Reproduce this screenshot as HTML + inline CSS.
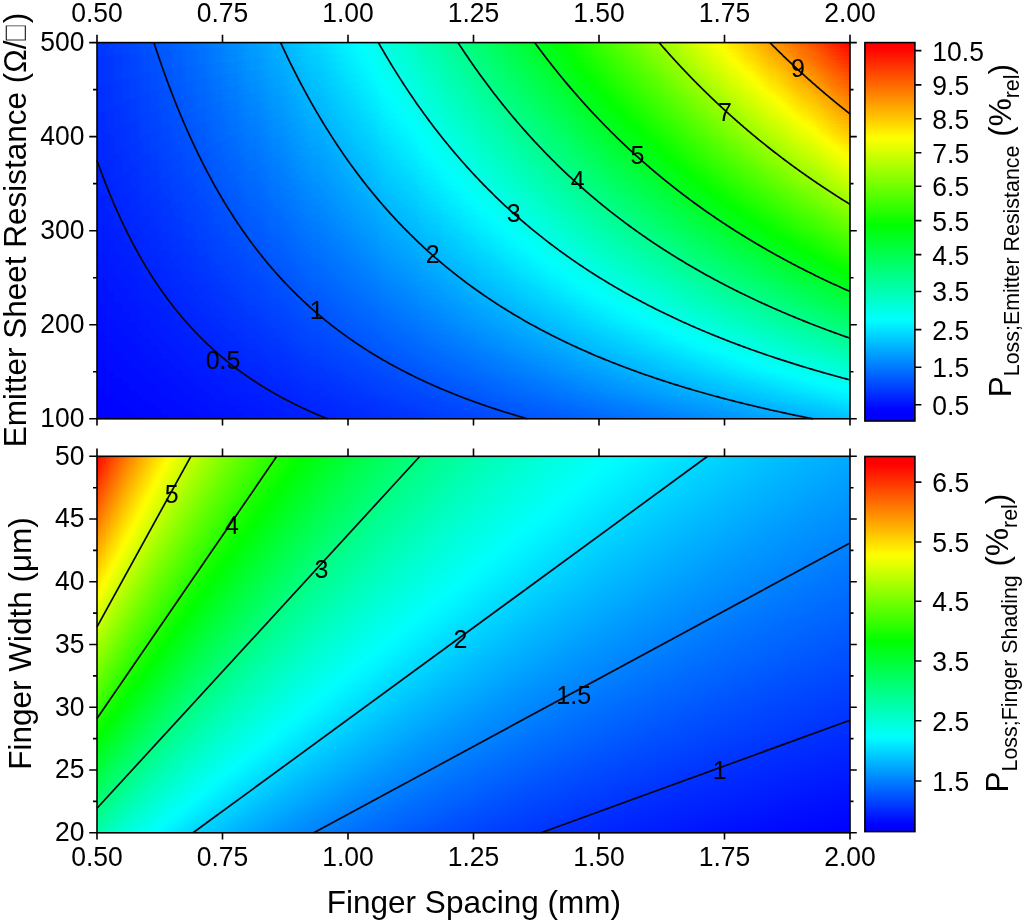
<!DOCTYPE html>
<html><head><meta charset="utf-8"><title>Finger spacing contour plots</title>
<style>
html,body{margin:0;padding:0;background:#fff;}
body{width:1025px;height:922px;position:relative;overflow:hidden;font-family:"Liberation Sans", Arial, sans-serif;}
#bf{position:absolute;left:97.00px;top:456.30px;width:753.00px;height:376.50px;background:conic-gradient(from 0deg at -251.00px 627.50px, #ff0000 20.656deg, #ff0000 20.786deg, #ff0000 20.918deg, #ff0000 21.051deg, #ff0000 21.187deg, #ff0000 21.323deg, #ff0000 21.462deg, #ff0000 21.602deg, #ff0000 21.744deg, #ff0500 21.888deg, #ff0d00 22.033deg, #ff1500 22.181deg, #ff1e00 22.330deg, #ff2600 22.481deg, #ff2e00 22.635deg, #ff3600 22.790deg, #ff3f00 22.947deg, #ff4700 23.106deg, #ff4f00 23.268deg, #ff5700 23.431deg, #ff6000 23.597deg, #ff6800 23.765deg, #ff7000 23.935deg, #ff7800 24.108deg, #ff8000 24.282deg, #ff8900 24.460deg, #ff9100 24.639deg, #ff9900 24.822deg, #ffa100 25.006deg, #ffaa00 25.194deg, #ffb200 25.384deg, #ffba00 25.576deg, #ffc200 25.772deg, #ffcb00 25.970deg, #ffd300 26.171deg, #ffdb00 26.375deg, #ffe300 26.582deg, #ffec00 26.792deg, #fff400 27.005deg, #fffc00 27.221deg, #faff00 27.440deg, #f1ff00 27.663deg, #e9ff00 27.889deg, #e1ff00 28.119deg, #d9ff00 28.352deg, #d1ff00 28.588deg, #c8ff00 28.828deg, #c0ff00 29.072deg, #b8ff00 29.320deg, #b0ff00 29.572deg, #a7ff00 29.827deg, #9fff00 30.087deg, #97ff00 30.350deg, #8fff00 30.618deg, #86ff00 30.890deg, #7eff00 31.167deg, #76ff00 31.448deg, #6eff00 31.734deg, #65ff00 32.024deg, #5dff00 32.319deg, #55ff00 32.619deg, #4dff00 32.924deg, #45ff00 33.234deg, #3cff00 33.550deg, #34ff00 33.870deg, #2cff00 34.196deg, #24ff00 34.528deg, #1bff00 34.865deg, #13ff00 35.208deg, #0bff00 35.557deg, #03ff00 35.912deg, #00ff06 36.274deg, #00ff0e 36.641deg, #00ff16 37.015deg, #00ff1e 37.396deg, #00ff27 37.783deg, #00ff2f 38.177deg, #00ff37 38.579deg, #00ff3f 38.987deg, #00ff47 39.403deg, #00ff50 39.826deg, #00ff58 40.257deg, #00ff60 40.696deg, #00ff68 41.142deg, #00ff71 41.597deg, #00ff79 42.060deg, #00ff81 42.531deg, #00ff89 43.011deg, #00ff92 43.500deg, #00ff9a 43.998deg, #00ffa2 44.505deg, #00ffaa 45.021deg, #00ffb3 45.546deg, #00ffbb 46.082deg, #00ffc3 46.627deg, #00ffcb 47.182deg, #00ffd4 47.747deg, #00ffdc 48.323deg, #00ffe4 48.909deg, #00ffec 49.505deg, #00fff4 50.113deg, #00fffd 50.731deg, #00f9ff 51.361deg, #00f1ff 52.001deg, #00e9ff 52.653deg, #00e0ff 53.317deg, #00d8ff 53.992deg, #00d0ff 54.680deg, #00c8ff 55.379deg, #00bfff 56.089deg, #00b7ff 56.813deg, #00afff 57.548deg, #00a7ff 58.295deg, #009eff 59.055deg, #0096ff 59.826deg, #008eff 60.611deg, #0086ff 61.407deg, #007eff 62.216deg, #0075ff 63.037deg, #006dff 63.870deg, #0065ff 64.715deg, #005dff 65.572deg, #0054ff 66.441deg, #004cff 67.321deg, #0044ff 68.213deg, #003cff 69.116deg, #0033ff 70.030deg, #002bff 70.955deg, #0023ff 71.890deg, #001bff 72.836deg, #0012ff 73.791deg, #000aff 74.755deg, #0002ff 75.729deg, #0000ff 76.711deg, #0000ff 77.701deg, #0000ff 78.698deg, #0000ff 79.702deg);}
</style></head><body>
<div id="bf"></div>
<svg width="1025" height="922" viewBox="0 0 1025 922" style="position:absolute;left:0;top:0">
<defs>
<linearGradient id="gx" x1="0" y1="0" x2="1" y2="0"><stop offset="0" stop-color="rgb(64,0,0)"/><stop offset="1" stop-color="rgb(255,0,0)"/></linearGradient>
<linearGradient id="gy" x1="0" y1="0" x2="0" y2="1"><stop offset="0" stop-color="rgb(0,255,0)"/><stop offset="1" stop-color="rgb(0,51,0)"/></linearGradient>
<filter id="ft" filterUnits="userSpaceOnUse" x="97.0" y="42.6" width="753.0" height="376.2" color-interpolation-filters="sRGB">
<feColorMatrix in="SourceGraphic" type="matrix" values="1 0 0 0 0  1 0 0 0 0  1 0 0 0 0  0 0 0 0 1" result="A"/>
<feColorMatrix in="SourceGraphic" type="matrix" values="0 1 0 0 0  0 1 0 0 0  0 1 0 0 0  0 0 0 0 1" result="B"/>
<feComposite in="A" in2="A" operator="arithmetic" k1="1" k2="0" k3="0" k4="0" result="AA"/>
<feComposite in="AA" in2="B" operator="arithmetic" k1="1" k2="0" k3="0" k4="0" result="P"/>
<feComponentTransfer in="P">
<feFuncR type="table" tableValues="0.0000 0.0000 0.0000 0.0000 0.0000 0.0000 0.0000 0.0000 0.0000 0.0000 0.0000 0.0000 0.0000 0.0000 0.0000 0.0000 0.0000 0.0000 0.0000 0.0000 0.0000 0.0000 0.0000 0.0000 0.0000 0.0000 0.0000 0.0000 0.0000 0.0000 0.0000 0.0000 0.0000 0.0000 0.0000 0.0000 0.0000 0.0000 0.0000 0.0000 0.0000 0.0000 0.0000 0.0000 0.0000 0.0000 0.0000 0.0000 0.0000 0.0000 0.0000 0.0000 0.0000 0.0000 0.0000 0.0000 0.0000 0.0000 0.0000 0.0000 0.0000 0.0000 0.0000 0.0000 0.0000 0.0000 0.0000 0.0000 0.0000 0.0000 0.0000 0.0000 0.0000 0.0000 0.0000 0.0000 0.0000 0.0000 0.0000 0.0000 0.0000 0.0000 0.0000 0.0000 0.0000 0.0000 0.0000 0.0000 0.0000 0.0000 0.0000 0.0000 0.0000 0.0000 0.0000 0.0000 0.0000 0.0000 0.0000 0.0000 0.0000 0.0000 0.0000 0.0000 0.0000 0.0000 0.0000 0.0000 0.0000 0.0000 0.0000 0.0000 0.0000 0.0000 0.0000 0.0000 0.0000 0.0000 0.0000 0.0000 0.0000 0.0000 0.0000 0.0000 0.0000 0.0000 0.0000 0.0000 0.0000 0.0000 0.0063 0.0222 0.0380 0.0538 0.0696 0.0854 0.1013 0.1171 0.1329 0.1487 0.1646 0.1804 0.1962 0.2120 0.2278 0.2437 0.2595 0.2753 0.2911 0.3070 0.3228 0.3386 0.3544 0.3703 0.3861 0.4019 0.4177 0.4335 0.4494 0.4652 0.4810 0.4968 0.5127 0.5285 0.5443 0.5601 0.5759 0.5918 0.6076 0.6234 0.6392 0.6551 0.6709 0.6867 0.7025 0.7184 0.7342 0.7500 0.7658 0.7816 0.7975 0.8133 0.8291 0.8449 0.8608 0.8766 0.8924 0.9082 0.9241 0.9399 0.9557 0.9715 0.9873 1.0000 1.0000 1.0000 1.0000 1.0000 1.0000 1.0000 1.0000 1.0000 1.0000 1.0000 1.0000 1.0000 1.0000 1.0000 1.0000 1.0000 1.0000 1.0000 1.0000 1.0000 1.0000 1.0000 1.0000 1.0000 1.0000 1.0000 1.0000 1.0000 1.0000 1.0000 1.0000 1.0000 1.0000 1.0000 1.0000 1.0000 1.0000 1.0000 1.0000 1.0000 1.0000 1.0000 1.0000 1.0000 1.0000 1.0000 1.0000 1.0000 1.0000 1.0000 1.0000 1.0000 1.0000 1.0000 1.0000 1.0000 1.0000 1.0000 1.0000 1.0000 1.0000 1.0000 1.0000"/>
<feFuncG type="table" tableValues="0.0000 0.0000 0.0000 0.0000 0.0127 0.0285 0.0443 0.0601 0.0759 0.0918 0.1076 0.1234 0.1392 0.1551 0.1709 0.1867 0.2025 0.2184 0.2342 0.2500 0.2658 0.2816 0.2975 0.3133 0.3291 0.3449 0.3608 0.3766 0.3924 0.4082 0.4241 0.4399 0.4557 0.4715 0.4873 0.5032 0.5190 0.5348 0.5506 0.5665 0.5823 0.5981 0.6139 0.6297 0.6456 0.6614 0.6772 0.6930 0.7089 0.7247 0.7405 0.7563 0.7722 0.7880 0.8038 0.8196 0.8354 0.8513 0.8671 0.8829 0.8987 0.9146 0.9304 0.9462 0.9620 0.9778 0.9937 1.0000 1.0000 1.0000 1.0000 1.0000 1.0000 1.0000 1.0000 1.0000 1.0000 1.0000 1.0000 1.0000 1.0000 1.0000 1.0000 1.0000 1.0000 1.0000 1.0000 1.0000 1.0000 1.0000 1.0000 1.0000 1.0000 1.0000 1.0000 1.0000 1.0000 1.0000 1.0000 1.0000 1.0000 1.0000 1.0000 1.0000 1.0000 1.0000 1.0000 1.0000 1.0000 1.0000 1.0000 1.0000 1.0000 1.0000 1.0000 1.0000 1.0000 1.0000 1.0000 1.0000 1.0000 1.0000 1.0000 1.0000 1.0000 1.0000 1.0000 1.0000 1.0000 1.0000 1.0000 1.0000 1.0000 1.0000 1.0000 1.0000 1.0000 1.0000 1.0000 1.0000 1.0000 1.0000 1.0000 1.0000 1.0000 1.0000 1.0000 1.0000 1.0000 1.0000 1.0000 1.0000 1.0000 1.0000 1.0000 1.0000 1.0000 1.0000 1.0000 1.0000 1.0000 1.0000 1.0000 1.0000 1.0000 1.0000 1.0000 1.0000 1.0000 1.0000 1.0000 1.0000 1.0000 1.0000 1.0000 1.0000 1.0000 1.0000 1.0000 1.0000 1.0000 1.0000 1.0000 1.0000 1.0000 1.0000 1.0000 1.0000 1.0000 1.0000 1.0000 1.0000 1.0000 0.9968 0.9810 0.9652 0.9494 0.9335 0.9177 0.9019 0.8861 0.8703 0.8544 0.8386 0.8228 0.8070 0.7911 0.7753 0.7595 0.7437 0.7278 0.7120 0.6962 0.6804 0.6646 0.6487 0.6329 0.6171 0.6013 0.5854 0.5696 0.5538 0.5380 0.5222 0.5063 0.4905 0.4747 0.4589 0.4430 0.4272 0.4114 0.3956 0.3797 0.3639 0.3481 0.3323 0.3165 0.3006 0.2848 0.2690 0.2532 0.2373 0.2215 0.2057 0.1899 0.1741 0.1582 0.1424 0.1266 0.1108 0.0949 0.0791 0.0633 0.0475 0.0316 0.0158 0.0000"/>
<feFuncB type="table" tableValues="1.0000 1.0000 1.0000 1.0000 1.0000 1.0000 1.0000 1.0000 1.0000 1.0000 1.0000 1.0000 1.0000 1.0000 1.0000 1.0000 1.0000 1.0000 1.0000 1.0000 1.0000 1.0000 1.0000 1.0000 1.0000 1.0000 1.0000 1.0000 1.0000 1.0000 1.0000 1.0000 1.0000 1.0000 1.0000 1.0000 1.0000 1.0000 1.0000 1.0000 1.0000 1.0000 1.0000 1.0000 1.0000 1.0000 1.0000 1.0000 1.0000 1.0000 1.0000 1.0000 1.0000 1.0000 1.0000 1.0000 1.0000 1.0000 1.0000 1.0000 1.0000 1.0000 1.0000 1.0000 1.0000 1.0000 1.0000 0.9905 0.9747 0.9589 0.9430 0.9272 0.9114 0.8956 0.8797 0.8639 0.8481 0.8323 0.8165 0.8006 0.7848 0.7690 0.7532 0.7373 0.7215 0.7057 0.6899 0.6741 0.6582 0.6424 0.6266 0.6108 0.5949 0.5791 0.5633 0.5475 0.5316 0.5158 0.5000 0.4842 0.4684 0.4525 0.4367 0.4209 0.4051 0.3892 0.3734 0.3576 0.3418 0.3259 0.3101 0.2943 0.2785 0.2627 0.2468 0.2310 0.2152 0.1994 0.1835 0.1677 0.1519 0.1361 0.1203 0.1044 0.0886 0.0728 0.0570 0.0411 0.0253 0.0095 0.0000 0.0000 0.0000 0.0000 0.0000 0.0000 0.0000 0.0000 0.0000 0.0000 0.0000 0.0000 0.0000 0.0000 0.0000 0.0000 0.0000 0.0000 0.0000 0.0000 0.0000 0.0000 0.0000 0.0000 0.0000 0.0000 0.0000 0.0000 0.0000 0.0000 0.0000 0.0000 0.0000 0.0000 0.0000 0.0000 0.0000 0.0000 0.0000 0.0000 0.0000 0.0000 0.0000 0.0000 0.0000 0.0000 0.0000 0.0000 0.0000 0.0000 0.0000 0.0000 0.0000 0.0000 0.0000 0.0000 0.0000 0.0000 0.0000 0.0000 0.0000 0.0000 0.0000 0.0000 0.0000 0.0000 0.0000 0.0000 0.0000 0.0000 0.0000 0.0000 0.0000 0.0000 0.0000 0.0000 0.0000 0.0000 0.0000 0.0000 0.0000 0.0000 0.0000 0.0000 0.0000 0.0000 0.0000 0.0000 0.0000 0.0000 0.0000 0.0000 0.0000 0.0000 0.0000 0.0000 0.0000 0.0000 0.0000 0.0000 0.0000 0.0000 0.0000 0.0000 0.0000 0.0000 0.0000 0.0000 0.0000 0.0000 0.0000 0.0000 0.0000 0.0000 0.0000 0.0000 0.0000 0.0000 0.0000 0.0000 0.0000 0.0000 0.0000 0.0000 0.0000 0.0000 0.0000"/>
<feFuncA type="identity"/>
</feComponentTransfer>
</filter>
<linearGradient id="cbt" x1="0" y1="0" x2="0" y2="1"><stop offset="0.000" stop-color="#ff0000"/><stop offset="0.010" stop-color="#ff0000"/><stop offset="0.020" stop-color="#ff0600"/><stop offset="0.030" stop-color="#ff1100"/><stop offset="0.040" stop-color="#ff1c00"/><stop offset="0.050" stop-color="#ff2600"/><stop offset="0.060" stop-color="#ff3100"/><stop offset="0.070" stop-color="#ff3c00"/><stop offset="0.080" stop-color="#ff4600"/><stop offset="0.090" stop-color="#ff5100"/><stop offset="0.100" stop-color="#ff5c00"/><stop offset="0.110" stop-color="#ff6700"/><stop offset="0.120" stop-color="#ff7100"/><stop offset="0.130" stop-color="#ff7c00"/><stop offset="0.140" stop-color="#ff8700"/><stop offset="0.150" stop-color="#ff9200"/><stop offset="0.160" stop-color="#ff9c00"/><stop offset="0.170" stop-color="#ffa700"/><stop offset="0.180" stop-color="#ffb200"/><stop offset="0.190" stop-color="#ffbc00"/><stop offset="0.200" stop-color="#ffc700"/><stop offset="0.210" stop-color="#ffd200"/><stop offset="0.220" stop-color="#ffdd00"/><stop offset="0.230" stop-color="#ffe700"/><stop offset="0.240" stop-color="#fff200"/><stop offset="0.250" stop-color="#fffd00"/><stop offset="0.260" stop-color="#f6ff00"/><stop offset="0.270" stop-color="#ebff00"/><stop offset="0.280" stop-color="#e0ff00"/><stop offset="0.290" stop-color="#d5ff00"/><stop offset="0.300" stop-color="#caff00"/><stop offset="0.310" stop-color="#bfff00"/><stop offset="0.320" stop-color="#b4ff00"/><stop offset="0.330" stop-color="#a9ff00"/><stop offset="0.340" stop-color="#9eff00"/><stop offset="0.350" stop-color="#92ff00"/><stop offset="0.360" stop-color="#87ff00"/><stop offset="0.370" stop-color="#7cff00"/><stop offset="0.380" stop-color="#71ff00"/><stop offset="0.390" stop-color="#66ff00"/><stop offset="0.400" stop-color="#5bff00"/><stop offset="0.410" stop-color="#50ff00"/><stop offset="0.420" stop-color="#45ff00"/><stop offset="0.430" stop-color="#3aff00"/><stop offset="0.440" stop-color="#2fff00"/><stop offset="0.450" stop-color="#24ff00"/><stop offset="0.460" stop-color="#18ff00"/><stop offset="0.470" stop-color="#0dff00"/><stop offset="0.480" stop-color="#02ff00"/><stop offset="0.490" stop-color="#00ff08"/><stop offset="0.500" stop-color="#00ff12"/><stop offset="0.510" stop-color="#00ff1c"/><stop offset="0.520" stop-color="#00ff27"/><stop offset="0.530" stop-color="#00ff31"/><stop offset="0.540" stop-color="#00ff3b"/><stop offset="0.550" stop-color="#00ff45"/><stop offset="0.560" stop-color="#00ff4f"/><stop offset="0.570" stop-color="#00ff59"/><stop offset="0.580" stop-color="#00ff64"/><stop offset="0.590" stop-color="#00ff6e"/><stop offset="0.600" stop-color="#00ff78"/><stop offset="0.610" stop-color="#00ff82"/><stop offset="0.620" stop-color="#00ff8c"/><stop offset="0.630" stop-color="#00ff96"/><stop offset="0.640" stop-color="#00ffa0"/><stop offset="0.650" stop-color="#00ffab"/><stop offset="0.660" stop-color="#00ffb5"/><stop offset="0.670" stop-color="#00ffbf"/><stop offset="0.680" stop-color="#00ffc9"/><stop offset="0.690" stop-color="#00ffd3"/><stop offset="0.700" stop-color="#00ffdd"/><stop offset="0.710" stop-color="#00ffe8"/><stop offset="0.720" stop-color="#00fff2"/><stop offset="0.730" stop-color="#00fffc"/><stop offset="0.740" stop-color="#00f8ff"/><stop offset="0.750" stop-color="#00edff"/><stop offset="0.760" stop-color="#00e2ff"/><stop offset="0.770" stop-color="#00d8ff"/><stop offset="0.780" stop-color="#00cdff"/><stop offset="0.790" stop-color="#00c3ff"/><stop offset="0.800" stop-color="#00b8ff"/><stop offset="0.810" stop-color="#00adff"/><stop offset="0.820" stop-color="#00a3ff"/><stop offset="0.830" stop-color="#0098ff"/><stop offset="0.840" stop-color="#008eff"/><stop offset="0.850" stop-color="#0083ff"/><stop offset="0.860" stop-color="#0078ff"/><stop offset="0.870" stop-color="#006eff"/><stop offset="0.880" stop-color="#0063ff"/><stop offset="0.890" stop-color="#0059ff"/><stop offset="0.900" stop-color="#004eff"/><stop offset="0.910" stop-color="#0043ff"/><stop offset="0.920" stop-color="#0039ff"/><stop offset="0.930" stop-color="#002eff"/><stop offset="0.940" stop-color="#0024ff"/><stop offset="0.950" stop-color="#0019ff"/><stop offset="0.960" stop-color="#000eff"/><stop offset="0.970" stop-color="#0004ff"/><stop offset="0.980" stop-color="#0000ff"/><stop offset="0.990" stop-color="#0000ff"/><stop offset="1.000" stop-color="#0000ff"/></linearGradient>
<linearGradient id="cbb" x1="0" y1="0" x2="0" y2="1"><stop offset="0.000" stop-color="#ff0000"/><stop offset="0.010" stop-color="#ff0000"/><stop offset="0.020" stop-color="#ff0000"/><stop offset="0.030" stop-color="#ff0b00"/><stop offset="0.040" stop-color="#ff1500"/><stop offset="0.050" stop-color="#ff2000"/><stop offset="0.060" stop-color="#ff2a00"/><stop offset="0.070" stop-color="#ff3500"/><stop offset="0.080" stop-color="#ff3f00"/><stop offset="0.090" stop-color="#ff4a00"/><stop offset="0.100" stop-color="#ff5400"/><stop offset="0.110" stop-color="#ff5f00"/><stop offset="0.120" stop-color="#ff6900"/><stop offset="0.130" stop-color="#ff7400"/><stop offset="0.140" stop-color="#ff7e00"/><stop offset="0.150" stop-color="#ff8900"/><stop offset="0.160" stop-color="#ff9300"/><stop offset="0.170" stop-color="#ff9e00"/><stop offset="0.180" stop-color="#ffa800"/><stop offset="0.190" stop-color="#ffb300"/><stop offset="0.200" stop-color="#ffbd00"/><stop offset="0.210" stop-color="#ffc800"/><stop offset="0.220" stop-color="#ffd200"/><stop offset="0.230" stop-color="#ffdd00"/><stop offset="0.240" stop-color="#ffe700"/><stop offset="0.250" stop-color="#fff200"/><stop offset="0.260" stop-color="#fffc00"/><stop offset="0.270" stop-color="#f7ff00"/><stop offset="0.280" stop-color="#ecff00"/><stop offset="0.290" stop-color="#e1ff00"/><stop offset="0.300" stop-color="#d5ff00"/><stop offset="0.310" stop-color="#caff00"/><stop offset="0.320" stop-color="#bfff00"/><stop offset="0.330" stop-color="#b4ff00"/><stop offset="0.340" stop-color="#a9ff00"/><stop offset="0.350" stop-color="#9eff00"/><stop offset="0.360" stop-color="#93ff00"/><stop offset="0.370" stop-color="#88ff00"/><stop offset="0.380" stop-color="#7cff00"/><stop offset="0.390" stop-color="#71ff00"/><stop offset="0.400" stop-color="#66ff00"/><stop offset="0.410" stop-color="#5bff00"/><stop offset="0.420" stop-color="#50ff00"/><stop offset="0.430" stop-color="#45ff00"/><stop offset="0.440" stop-color="#3aff00"/><stop offset="0.450" stop-color="#2fff00"/><stop offset="0.460" stop-color="#23ff00"/><stop offset="0.470" stop-color="#18ff00"/><stop offset="0.480" stop-color="#0dff00"/><stop offset="0.490" stop-color="#02ff00"/><stop offset="0.500" stop-color="#00ff08"/><stop offset="0.510" stop-color="#00ff12"/><stop offset="0.520" stop-color="#00ff1c"/><stop offset="0.530" stop-color="#00ff26"/><stop offset="0.540" stop-color="#00ff30"/><stop offset="0.550" stop-color="#00ff3a"/><stop offset="0.560" stop-color="#00ff44"/><stop offset="0.570" stop-color="#00ff4e"/><stop offset="0.580" stop-color="#00ff58"/><stop offset="0.590" stop-color="#00ff62"/><stop offset="0.600" stop-color="#00ff6c"/><stop offset="0.610" stop-color="#00ff76"/><stop offset="0.620" stop-color="#00ff80"/><stop offset="0.630" stop-color="#00ff8a"/><stop offset="0.640" stop-color="#00ff94"/><stop offset="0.650" stop-color="#00ff9e"/><stop offset="0.660" stop-color="#00ffa8"/><stop offset="0.670" stop-color="#00ffb1"/><stop offset="0.680" stop-color="#00ffbb"/><stop offset="0.690" stop-color="#00ffc5"/><stop offset="0.700" stop-color="#00ffcf"/><stop offset="0.710" stop-color="#00ffd9"/><stop offset="0.720" stop-color="#00ffe3"/><stop offset="0.730" stop-color="#00ffed"/><stop offset="0.740" stop-color="#00fff7"/><stop offset="0.750" stop-color="#00fdff"/><stop offset="0.760" stop-color="#00f2ff"/><stop offset="0.770" stop-color="#00e7ff"/><stop offset="0.780" stop-color="#00dcff"/><stop offset="0.790" stop-color="#00d1ff"/><stop offset="0.800" stop-color="#00c6ff"/><stop offset="0.810" stop-color="#00bbff"/><stop offset="0.820" stop-color="#00b1ff"/><stop offset="0.830" stop-color="#00a6ff"/><stop offset="0.840" stop-color="#009bff"/><stop offset="0.850" stop-color="#0090ff"/><stop offset="0.860" stop-color="#0085ff"/><stop offset="0.870" stop-color="#007aff"/><stop offset="0.880" stop-color="#006fff"/><stop offset="0.890" stop-color="#0064ff"/><stop offset="0.900" stop-color="#005aff"/><stop offset="0.910" stop-color="#004fff"/><stop offset="0.920" stop-color="#0044ff"/><stop offset="0.930" stop-color="#0039ff"/><stop offset="0.940" stop-color="#002eff"/><stop offset="0.950" stop-color="#0023ff"/><stop offset="0.960" stop-color="#0018ff"/><stop offset="0.970" stop-color="#000dff"/><stop offset="0.980" stop-color="#0003ff"/><stop offset="0.990" stop-color="#0000ff"/><stop offset="1.000" stop-color="#0000ff"/></linearGradient>
</defs>
<g filter="url(#ft)">
<rect x="97.0" y="42.6" width="753.0" height="376.2" fill="url(#gx)"/>
<rect x="97.0" y="42.6" width="753.0" height="376.2" fill="url(#gy)" style="mix-blend-mode:screen"/>
</g>
<g fill="none" stroke="#050510" stroke-width="1.70" stroke-linejoin="round">
<path d="M97.00,160.40 L97.77,162.56 L98.54,164.70 L99.30,166.83 L100.07,168.93 L100.84,171.02 L101.61,173.08 L102.38,175.13 L103.15,177.16 L103.91,179.17 L104.68,181.16 L105.45,183.14 L106.22,185.10 L106.99,187.04 L107.76,188.96 L108.53,190.87 L109.29,192.76 L110.06,194.63 L110.83,196.49 L111.60,198.33 L112.37,200.16 L113.14,201.97 L113.90,203.76 L114.67,205.54 L115.44,207.30 L116.21,209.05 L116.98,210.79 L117.75,212.51 L118.51,214.21 L119.28,215.90 L120.05,217.58 L120.82,219.24 L121.59,220.89 L122.35,222.52 L123.12,224.14 L123.89,225.75 L124.66,227.34 L125.43,228.92 L126.20,230.49 L126.96,232.05 L127.73,233.59 L128.50,235.12 L129.27,236.64 L130.04,238.14 L130.81,239.63 L131.57,241.12 L132.34,242.58 L133.11,244.04 L133.88,245.49 L134.65,246.92 L135.42,248.34 L136.19,249.76 L136.95,251.16 L137.72,252.55 L138.49,253.92 L139.26,255.29 L140.03,256.65 L140.80,257.99 L141.56,259.33 L142.33,260.65 L143.10,261.97 L143.87,263.27 L144.64,264.57 L145.41,265.85 L146.17,267.13 L146.94,268.39 L147.71,269.65 L148.48,270.90 L149.25,272.13 L150.01,273.36 L150.78,274.58 L151.55,275.79 L152.32,276.98 L153.09,278.18 L153.86,279.36 L154.63,280.53 L155.39,281.69 L156.16,282.85 L156.93,284.00 L157.70,285.14 L158.47,286.27 L159.24,287.39 L160.00,288.50 L160.77,289.61 L161.54,290.70 L162.31,291.79 L163.08,292.87 L163.85,293.95 L164.61,295.01 L165.38,296.07 L166.15,297.12 L166.92,298.17 L167.69,299.20 L168.45,300.23 L169.22,301.25 L169.99,302.26 L170.76,303.27 L171.53,304.27 L172.30,305.26 L173.06,306.25 L173.83,307.23 L174.60,308.20 L175.37,309.16 L176.14,310.12 L176.91,311.07 L177.67,312.02 L178.44,312.95 L179.21,313.89 L179.98,314.81 L180.75,315.73 L181.52,316.64 L182.29,317.55 L183.05,318.45 L183.82,319.34 L184.59,320.23 L185.36,321.11 L186.13,321.99 L186.90,322.86 L187.66,323.72 L188.43,324.58 L189.20,325.43 L189.97,326.28 L190.74,327.12 L191.50,327.96 L192.27,328.79 L193.04,329.61 L193.81,330.43 L194.58,331.25 L195.35,332.05 L196.12,332.86 L196.88,333.66 L197.65,334.45 L198.42,335.24 L199.19,336.02 L199.96,336.79 L200.73,337.57 L201.49,338.33 L202.26,339.10 L203.03,339.85 L203.80,340.61 L204.57,341.35 L205.34,342.10 L206.10,342.83 L206.87,343.57 L207.64,344.30 L208.41,345.02 L209.18,345.74 L209.94,346.45 L210.71,347.16 L211.48,347.87 L212.25,348.57 L213.02,349.27 L213.79,349.96 L214.56,350.65 L215.32,351.33 L216.09,352.01 L216.86,352.69 L217.63,353.36 L218.40,354.03 L219.16,354.69 L219.93,355.35 L220.70,356.00 L221.47,356.66 L222.24,357.30 L223.01,357.95 L223.77,358.58 L224.54,359.22 L225.31,359.85 L226.08,360.48 L226.85,361.10 L227.62,361.72 L228.38,362.34 L229.15,362.95 L229.92,363.56 L230.69,364.16 L231.46,364.77 L232.23,365.36 L233.00,365.96 L233.76,366.55 L234.53,367.14 L235.30,367.72 L236.07,368.30 L236.84,368.88 L237.61,369.45 L238.37,370.02 L239.14,370.59 L239.91,371.15 L240.68,371.71 L241.45,372.27 L242.22,372.82 L242.98,373.38 L243.75,373.92 L244.52,374.47 L245.29,375.01 L246.06,375.55 L246.83,376.08 L247.59,376.61 L248.36,377.14 L249.13,377.67 L249.90,378.19 L250.67,378.71 L251.44,379.23 L252.20,379.74 L252.97,380.25 L253.74,380.76 L254.51,381.27 L255.28,381.77 L256.05,382.27 L256.81,382.76 L257.58,383.26 L258.35,383.75 L259.12,384.24 L259.89,384.72 L260.65,385.21 L261.42,385.69 L262.19,386.17 L262.96,386.64 L263.73,387.11 L264.50,387.58 L265.26,388.05 L266.03,388.52 L266.80,388.98 L267.57,389.44 L268.34,389.90 L269.11,390.35 L269.88,390.80 L270.64,391.25 L271.41,391.70 L272.18,392.14 L272.95,392.59 L273.72,393.03 L274.49,393.46 L275.25,393.90 L276.02,394.33 L276.79,394.76 L277.56,395.19 L278.33,395.62 L279.10,396.04 L279.86,396.46 L280.63,396.88 L281.40,397.30 L282.17,397.72 L282.94,398.13 L283.71,398.54 L284.47,398.95 L285.24,399.36 L286.01,399.76 L286.78,400.16 L287.55,400.56 L288.32,400.96 L289.08,401.36 L289.85,401.75 L290.62,402.14 L291.39,402.53 L292.16,402.92 L292.93,403.30 L293.69,403.69 L294.46,404.07 L295.23,404.45 L296.00,404.83 L296.77,405.20 L297.54,405.58 L298.30,405.95 L299.07,406.32 L299.84,406.69 L300.61,407.06 L301.38,407.42 L302.14,407.78 L302.91,408.14 L303.68,408.50 L304.45,408.86 L305.22,409.22 L305.99,409.57 L306.75,409.92 L307.52,410.27 L308.29,410.62 L309.06,410.97 L309.83,411.31 L310.60,411.66 L311.37,412.00 L312.13,412.34 L312.90,412.68 L313.67,413.01 L314.44,413.35 L315.21,413.68 L315.98,414.01 L316.74,414.34 L317.51,414.67 L318.28,415.00 L319.05,415.32 L319.82,415.65 L320.59,415.97 L321.35,416.29 L322.12,416.61 L322.89,416.93 L323.66,417.24 L324.43,417.56 L325.20,417.87 L325.96,418.18 L326.73,418.49 L327.50,418.80"/>
<path d="M153.90,42.60 L155.15,46.40 L156.39,50.16 L157.64,53.87 L158.88,57.53 L160.13,61.15 L161.37,64.73 L162.62,68.27 L163.86,71.77 L165.11,75.22 L166.35,78.64 L167.60,82.01 L168.84,85.35 L170.09,88.64 L171.33,91.90 L172.58,95.13 L173.83,98.31 L175.07,101.46 L176.32,104.58 L177.56,107.66 L178.81,110.70 L180.05,113.71 L181.30,116.69 L182.54,119.64 L183.79,122.55 L185.03,125.43 L186.28,128.28 L187.52,131.09 L188.77,133.88 L190.01,136.64 L191.26,139.36 L192.51,142.06 L193.75,144.73 L195.00,147.37 L196.24,149.98 L197.49,152.56 L198.73,155.12 L199.98,157.65 L201.22,160.15 L202.47,162.63 L203.71,165.08 L204.96,167.51 L206.20,169.91 L207.45,172.28 L208.69,174.63 L209.94,176.96 L211.19,179.27 L212.43,181.55 L213.68,183.80 L214.92,186.04 L216.17,188.25 L217.41,190.44 L218.66,192.61 L219.90,194.75 L221.15,196.88 L222.39,198.98 L223.64,201.06 L224.88,203.12 L226.13,205.17 L227.37,207.19 L228.62,209.19 L229.87,211.17 L231.11,213.14 L232.36,215.08 L233.60,217.01 L234.85,218.91 L236.09,220.80 L237.34,222.68 L238.58,224.53 L239.83,226.36 L241.07,228.18 L242.32,229.98 L243.56,231.77 L244.81,233.54 L246.05,235.29 L247.30,237.02 L248.55,238.74 L249.79,240.45 L251.04,242.13 L252.28,243.81 L253.53,245.46 L254.77,247.10 L256.02,248.73 L257.26,250.34 L258.51,251.94 L259.75,253.52 L261.00,255.09 L262.24,256.65 L263.49,258.19 L264.73,259.71 L265.98,261.23 L267.23,262.73 L268.47,264.21 L269.72,265.69 L270.96,267.15 L272.21,268.60 L273.45,270.03 L274.70,271.45 L275.94,272.86 L277.19,274.26 L278.43,275.65 L279.68,277.02 L280.92,278.39 L282.17,279.74 L283.41,281.08 L284.66,282.40 L285.91,283.72 L287.15,285.03 L288.40,286.32 L289.64,287.60 L290.89,288.88 L292.13,290.14 L293.38,291.39 L294.62,292.63 L295.87,293.86 L297.11,295.08 L298.36,296.29 L299.60,297.50 L300.85,298.69 L302.09,299.87 L303.34,301.04 L304.59,302.20 L305.83,303.35 L307.08,304.50 L308.32,305.63 L309.57,306.76 L310.81,307.87 L312.06,308.98 L313.30,310.08 L314.55,311.17 L315.79,312.25 L317.04,313.32 L318.28,314.38 L319.53,315.44 L320.77,316.49 L322.02,317.52 L323.27,318.55 L324.51,319.58 L325.76,320.59 L327.00,321.60 L328.25,322.60 L329.49,323.59 L330.74,324.57 L331.98,325.55 L333.23,326.52 L334.47,327.48 L335.72,328.43 L336.96,329.38 L338.21,330.32 L339.45,331.25 L340.70,332.18 L341.95,333.10 L343.19,334.01 L344.44,334.91 L345.68,335.81 L346.93,336.70 L348.17,337.59 L349.42,338.46 L350.66,339.34 L351.91,340.20 L353.15,341.06 L354.40,341.91 L355.64,342.76 L356.89,343.60 L358.13,344.43 L359.38,345.26 L360.63,346.08 L361.87,346.90 L363.12,347.71 L364.36,348.51 L365.61,349.31 L366.85,350.10 L368.10,350.89 L369.34,351.67 L370.59,352.45 L371.83,353.22 L373.08,353.98 L374.32,354.74 L375.57,355.50 L376.81,356.25 L378.06,356.99 L379.31,357.73 L380.55,358.46 L381.80,359.19 L383.04,359.91 L384.29,360.63 L385.53,361.34 L386.78,362.05 L388.02,362.75 L389.27,363.45 L390.51,364.15 L391.76,364.84 L393.00,365.52 L394.25,366.20 L395.49,366.87 L396.74,367.54 L397.99,368.21 L399.23,368.87 L400.48,369.53 L401.72,370.18 L402.97,370.83 L404.21,371.47 L405.46,372.11 L406.70,372.75 L407.95,373.38 L409.19,374.01 L410.44,374.63 L411.68,375.25 L412.93,375.86 L414.17,376.47 L415.42,377.08 L416.67,377.68 L417.91,378.28 L419.16,378.88 L420.40,379.47 L421.65,380.05 L422.89,380.64 L424.14,381.22 L425.38,381.79 L426.63,382.36 L427.87,382.93 L429.12,383.50 L430.36,384.06 L431.61,384.62 L432.85,385.17 L434.10,385.72 L435.35,386.27 L436.59,386.81 L437.84,387.35 L439.08,387.89 L440.33,388.42 L441.57,388.95 L442.82,389.48 L444.06,390.00 L445.31,390.52 L446.55,391.04 L447.80,391.55 L449.04,392.06 L450.29,392.57 L451.53,393.07 L452.78,393.57 L454.03,394.07 L455.27,394.57 L456.52,395.06 L457.76,395.55 L459.01,396.03 L460.25,396.52 L461.50,397.00 L462.74,397.47 L463.99,397.95 L465.23,398.42 L466.48,398.89 L467.72,399.35 L468.97,399.82 L470.21,400.28 L471.46,400.74 L472.71,401.19 L473.95,401.64 L475.20,402.09 L476.44,402.54 L477.69,402.98 L478.93,403.42 L480.18,403.86 L481.42,404.30 L482.67,404.73 L483.91,405.16 L485.16,405.59 L486.40,406.02 L487.65,406.44 L488.89,406.86 L490.14,407.28 L491.39,407.70 L492.63,408.11 L493.88,408.53 L495.12,408.93 L496.37,409.34 L497.61,409.75 L498.86,410.15 L500.10,410.55 L501.35,410.95 L502.59,411.34 L503.84,411.73 L505.08,412.13 L506.33,412.51 L507.57,412.90 L508.82,413.28 L510.07,413.67 L511.31,414.05 L512.56,414.43 L513.80,414.80 L515.05,415.17 L516.29,415.55 L517.54,415.92 L518.78,416.28 L520.03,416.65 L521.27,417.01 L522.52,417.37 L523.76,417.73 L525.01,418.09 L526.25,418.45 L527.50,418.80"/>
<path d="M280.60,42.60 L282.37,46.43 L284.15,50.20 L285.92,53.94 L287.70,57.63 L289.47,61.27 L291.24,64.87 L293.02,68.43 L294.79,71.95 L296.57,75.42 L298.34,78.86 L300.11,82.25 L301.89,85.60 L303.66,88.92 L305.44,92.20 L307.21,95.43 L308.98,98.64 L310.76,101.80 L312.53,104.93 L314.31,108.03 L316.08,111.08 L317.85,114.11 L319.63,117.10 L321.40,120.06 L323.18,122.98 L324.95,125.87 L326.72,128.73 L328.50,131.56 L330.27,134.36 L332.05,137.12 L333.82,139.86 L335.59,142.57 L337.37,145.25 L339.14,147.89 L340.92,150.51 L342.69,153.11 L344.46,155.67 L346.24,158.21 L348.01,160.72 L349.79,163.20 L351.56,165.66 L353.33,168.09 L355.11,170.50 L356.88,172.88 L358.66,175.24 L360.43,177.57 L362.20,179.88 L363.98,182.17 L365.75,184.43 L367.53,186.67 L369.30,188.88 L371.07,191.08 L372.85,193.25 L374.62,195.40 L376.40,197.53 L378.17,199.63 L379.94,201.72 L381.72,203.79 L383.49,205.83 L385.27,207.85 L387.04,209.86 L388.81,211.84 L390.59,213.81 L392.36,215.76 L394.14,217.68 L395.91,219.59 L397.68,221.48 L399.46,223.36 L401.23,225.21 L403.01,227.05 L404.78,228.87 L406.55,230.67 L408.33,232.46 L410.10,234.23 L411.88,235.98 L413.65,237.71 L415.42,239.43 L417.20,241.13 L418.97,242.82 L420.75,244.49 L422.52,246.15 L424.29,247.79 L426.07,249.42 L427.84,251.03 L429.62,252.63 L431.39,254.21 L433.16,255.78 L434.94,257.33 L436.71,258.87 L438.49,260.40 L440.26,261.91 L442.03,263.41 L443.81,264.89 L445.58,266.36 L447.36,267.82 L449.13,269.27 L450.90,270.70 L452.68,272.13 L454.45,273.53 L456.23,274.93 L458.00,276.32 L459.77,277.69 L461.55,279.05 L463.32,280.40 L465.10,281.73 L466.87,283.06 L468.64,284.37 L470.42,285.68 L472.19,286.97 L473.97,288.25 L475.74,289.52 L477.51,290.78 L479.29,292.03 L481.06,293.27 L482.84,294.50 L484.61,295.72 L486.38,296.92 L488.16,298.12 L489.93,299.31 L491.71,300.49 L493.48,301.66 L495.25,302.82 L497.03,303.97 L498.80,305.11 L500.58,306.24 L502.35,307.36 L504.12,308.47 L505.90,309.58 L507.67,310.67 L509.45,311.76 L511.22,312.84 L512.99,313.90 L514.77,314.97 L516.54,316.02 L518.32,317.06 L520.09,318.10 L521.86,319.12 L523.64,320.14 L525.41,321.16 L527.19,322.16 L528.96,323.15 L530.73,324.14 L532.51,325.12 L534.28,326.10 L536.06,327.06 L537.83,328.02 L539.60,328.97 L541.38,329.91 L543.15,330.85 L544.93,331.78 L546.70,332.70 L548.47,333.61 L550.25,334.52 L552.02,335.42 L553.80,336.32 L555.57,337.21 L557.34,338.09 L559.12,338.96 L560.89,339.83 L562.67,340.69 L564.44,341.55 L566.21,342.39 L567.99,343.24 L569.76,344.07 L571.54,344.90 L573.31,345.73 L575.08,346.55 L576.86,347.36 L578.63,348.16 L580.41,348.97 L582.18,349.76 L583.95,350.55 L585.73,351.33 L587.50,352.11 L589.28,352.88 L591.05,353.65 L592.82,354.41 L594.60,355.17 L596.37,355.92 L598.15,356.66 L599.92,357.40 L601.69,358.14 L603.47,358.87 L605.24,359.59 L607.02,360.31 L608.79,361.02 L610.56,361.73 L612.34,362.44 L614.11,363.14 L615.89,363.83 L617.66,364.52 L619.43,365.21 L621.21,365.89 L622.98,366.56 L624.76,367.24 L626.53,367.90 L628.30,368.56 L630.08,369.22 L631.85,369.88 L633.63,370.52 L635.40,371.17 L637.17,371.81 L638.95,372.44 L640.72,373.08 L642.50,373.70 L644.27,374.33 L646.04,374.95 L647.82,375.56 L649.59,376.17 L651.37,376.78 L653.14,377.38 L654.91,377.98 L656.69,378.57 L658.46,379.17 L660.24,379.75 L662.01,380.34 L663.78,380.92 L665.56,381.49 L667.33,382.06 L669.11,382.63 L670.88,383.20 L672.65,383.76 L674.43,384.32 L676.20,384.87 L677.98,385.42 L679.75,385.97 L681.52,386.51 L683.30,387.05 L685.07,387.59 L686.85,388.12 L688.62,388.65 L690.39,389.18 L692.17,389.70 L693.94,390.22 L695.72,390.74 L697.49,391.25 L699.26,391.76 L701.04,392.27 L702.81,392.77 L704.59,393.27 L706.36,393.77 L708.13,394.26 L709.91,394.75 L711.68,395.24 L713.46,395.73 L715.23,396.21 L717.00,396.69 L718.78,397.17 L720.55,397.64 L722.33,398.11 L724.10,398.58 L725.87,399.05 L727.65,399.51 L729.42,399.97 L731.20,400.42 L732.97,400.88 L734.74,401.33 L736.52,401.78 L738.29,402.23 L740.07,402.67 L741.84,403.11 L743.61,403.55 L745.39,403.98 L747.16,404.42 L748.94,404.85 L750.71,405.27 L752.48,405.70 L754.26,406.12 L756.03,406.54 L757.81,406.96 L759.58,407.38 L761.35,407.79 L763.13,408.20 L764.90,408.61 L766.68,409.02 L768.45,409.42 L770.22,409.82 L772.00,410.22 L773.77,410.62 L775.55,411.01 L777.32,411.40 L779.09,411.79 L780.87,412.18 L782.64,412.57 L784.42,412.95 L786.19,413.33 L787.96,413.71 L789.74,414.09 L791.51,414.46 L793.29,414.83 L795.06,415.21 L796.83,415.57 L798.61,415.94 L800.38,416.30 L802.16,416.67 L803.93,417.03 L805.70,417.39 L807.48,417.74 L809.25,418.10 L811.03,418.45 L812.80,418.80"/>
<path d="M378.40,42.60 L379.97,45.36 L381.54,48.09 L383.12,50.80 L384.69,53.49 L386.26,56.15 L387.83,58.79 L389.40,61.41 L390.98,64.01 L392.55,66.58 L394.12,69.13 L395.69,71.66 L397.26,74.17 L398.84,76.65 L400.41,79.12 L401.98,81.56 L403.55,83.98 L405.12,86.38 L406.70,88.77 L408.27,91.13 L409.84,93.47 L411.41,95.80 L412.98,98.10 L414.56,100.38 L416.13,102.65 L417.70,104.90 L419.27,107.13 L420.84,109.34 L422.42,111.53 L423.99,113.70 L425.56,115.86 L427.13,118.00 L428.70,120.12 L430.28,122.23 L431.85,124.32 L433.42,126.39 L434.99,128.44 L436.56,130.48 L438.14,132.50 L439.71,134.51 L441.28,136.50 L442.85,138.47 L444.42,140.43 L446.00,142.38 L447.57,144.30 L449.14,146.22 L450.71,148.12 L452.28,150.00 L453.86,151.87 L455.43,153.72 L457.00,155.57 L458.57,157.39 L460.14,159.20 L461.72,161.00 L463.29,162.79 L464.86,164.56 L466.43,166.32 L468.00,168.06 L469.58,169.79 L471.15,171.51 L472.72,173.21 L474.29,174.91 L475.86,176.59 L477.44,178.25 L479.01,179.91 L480.58,181.55 L482.15,183.18 L483.72,184.80 L485.30,186.41 L486.87,188.00 L488.44,189.58 L490.01,191.16 L491.58,192.72 L493.16,194.26 L494.73,195.80 L496.30,197.33 L497.87,198.84 L499.44,200.35 L501.02,201.84 L502.59,203.32 L504.16,204.79 L505.73,206.26 L507.30,207.71 L508.88,209.15 L510.45,210.58 L512.02,212.00 L513.59,213.41 L515.16,214.81 L516.74,216.20 L518.31,217.58 L519.88,218.95 L521.45,220.32 L523.02,221.67 L524.60,223.01 L526.17,224.34 L527.74,225.67 L529.31,226.98 L530.88,228.29 L532.46,229.59 L534.03,230.88 L535.60,232.15 L537.17,233.43 L538.74,234.69 L540.32,235.94 L541.89,237.19 L543.46,238.42 L545.03,239.65 L546.60,240.87 L548.18,242.08 L549.75,243.29 L551.32,244.48 L552.89,245.67 L554.46,246.85 L556.04,248.02 L557.61,249.19 L559.18,250.34 L560.75,251.49 L562.32,252.63 L563.90,253.77 L565.47,254.90 L567.04,256.01 L568.61,257.13 L570.18,258.23 L571.76,259.33 L573.33,260.42 L574.90,261.50 L576.47,262.58 L578.04,263.65 L579.62,264.71 L581.19,265.77 L582.76,266.82 L584.33,267.86 L585.90,268.89 L587.48,269.92 L589.05,270.95 L590.62,271.96 L592.19,272.97 L593.76,273.97 L595.34,274.97 L596.91,275.96 L598.48,276.95 L600.05,277.93 L601.62,278.90 L603.20,279.86 L604.77,280.82 L606.34,281.78 L607.91,282.73 L609.48,283.67 L611.06,284.61 L612.63,285.54 L614.20,286.46 L615.77,287.38 L617.34,288.30 L618.92,289.20 L620.49,290.11 L622.06,291.00 L623.63,291.90 L625.20,292.78 L626.78,293.66 L628.35,294.54 L629.92,295.41 L631.49,296.28 L633.06,297.14 L634.64,297.99 L636.21,298.84 L637.78,299.69 L639.35,300.53 L640.92,301.36 L642.50,302.19 L644.07,303.02 L645.64,303.84 L647.21,304.65 L648.78,305.46 L650.36,306.27 L651.93,307.07 L653.50,307.87 L655.07,308.66 L656.64,309.45 L658.22,310.23 L659.79,311.01 L661.36,311.78 L662.93,312.55 L664.50,313.32 L666.08,314.08 L667.65,314.83 L669.22,315.58 L670.79,316.33 L672.36,317.07 L673.94,317.81 L675.51,318.55 L677.08,319.28 L678.65,320.00 L680.22,320.73 L681.80,321.45 L683.37,322.16 L684.94,322.87 L686.51,323.58 L688.08,324.28 L689.66,324.98 L691.23,325.67 L692.80,326.36 L694.37,327.05 L695.94,327.73 L697.52,328.41 L699.09,329.09 L700.66,329.76 L702.23,330.43 L703.80,331.09 L705.38,331.75 L706.95,332.41 L708.52,333.06 L710.09,333.71 L711.66,334.36 L713.24,335.00 L714.81,335.64 L716.38,336.28 L717.95,336.91 L719.52,337.54 L721.10,338.16 L722.67,338.79 L724.24,339.40 L725.81,340.02 L727.38,340.63 L728.96,341.24 L730.53,341.85 L732.10,342.45 L733.67,343.05 L735.24,343.65 L736.82,344.24 L738.39,344.83 L739.96,345.42 L741.53,346.00 L743.10,346.58 L744.68,347.16 L746.25,347.73 L747.82,348.30 L749.39,348.87 L750.96,349.44 L752.54,350.00 L754.11,350.56 L755.68,351.12 L757.25,351.67 L758.82,352.22 L760.40,352.77 L761.97,353.32 L763.54,353.86 L765.11,354.40 L766.68,354.94 L768.26,355.47 L769.83,356.00 L771.40,356.53 L772.97,357.06 L774.54,357.58 L776.12,358.10 L777.69,358.62 L779.26,359.14 L780.83,359.65 L782.40,360.16 L783.98,360.67 L785.55,361.18 L787.12,361.68 L788.69,362.18 L790.26,362.68 L791.84,363.17 L793.41,363.67 L794.98,364.16 L796.55,364.64 L798.12,365.13 L799.70,365.61 L801.27,366.09 L802.84,366.57 L804.41,367.05 L805.98,367.52 L807.56,367.99 L809.13,368.46 L810.70,368.93 L812.27,369.39 L813.84,369.86 L815.42,370.32 L816.99,370.78 L818.56,371.23 L820.13,371.68 L821.70,372.14 L823.28,372.58 L824.85,373.03 L826.42,373.48 L827.99,373.92 L829.56,374.36 L831.14,374.80 L832.71,375.23 L834.28,375.67 L835.85,376.10 L837.42,376.53 L839.00,376.96 L840.57,377.39 L842.14,377.81 L843.71,378.23 L845.28,378.65 L846.86,379.07 L848.43,379.49 L850.00,379.90"/>
<path d="M458.00,42.60 L459.31,44.60 L460.61,46.59 L461.92,48.57 L463.23,50.53 L464.53,52.48 L465.84,54.42 L467.15,56.35 L468.45,58.27 L469.76,60.17 L471.07,62.06 L472.37,63.94 L473.68,65.81 L474.99,67.66 L476.29,69.51 L477.60,71.34 L478.91,73.16 L480.21,74.97 L481.52,76.77 L482.83,78.56 L484.13,80.34 L485.44,82.10 L486.75,83.86 L488.05,85.60 L489.36,87.34 L490.67,89.06 L491.97,90.78 L493.28,92.48 L494.59,94.17 L495.89,95.85 L497.20,97.53 L498.51,99.19 L499.81,100.84 L501.12,102.48 L502.43,104.12 L503.73,105.74 L505.04,107.35 L506.35,108.95 L507.65,110.55 L508.96,112.13 L510.27,113.71 L511.57,115.28 L512.88,116.83 L514.19,118.38 L515.49,119.92 L516.80,121.45 L518.11,122.97 L519.41,124.48 L520.72,125.98 L522.03,127.48 L523.33,128.97 L524.64,130.44 L525.95,131.91 L527.25,133.37 L528.56,134.82 L529.87,136.27 L531.17,137.70 L532.48,139.13 L533.79,140.55 L535.09,141.96 L536.40,143.36 L537.71,144.76 L539.01,146.15 L540.32,147.53 L541.63,148.90 L542.93,150.26 L544.24,151.62 L545.55,152.97 L546.85,154.31 L548.16,155.64 L549.47,156.97 L550.77,158.29 L552.08,159.60 L553.39,160.90 L554.69,162.20 L556.00,163.49 L557.31,164.77 L558.61,166.05 L559.92,167.32 L561.23,168.58 L562.53,169.83 L563.84,171.08 L565.15,172.32 L566.45,173.56 L567.76,174.78 L569.07,176.01 L570.37,177.22 L571.68,178.43 L572.99,179.63 L574.29,180.82 L575.60,182.01 L576.91,183.20 L578.21,184.37 L579.52,185.54 L580.83,186.70 L582.13,187.86 L583.44,189.01 L584.75,190.16 L586.05,191.30 L587.36,192.43 L588.67,193.56 L589.97,194.68 L591.28,195.79 L592.59,196.90 L593.89,198.01 L595.20,199.10 L596.51,200.20 L597.81,201.28 L599.12,202.36 L600.43,203.44 L601.73,204.51 L603.04,205.57 L604.35,206.63 L605.65,207.68 L606.96,208.73 L608.27,209.77 L609.57,210.81 L610.88,211.84 L612.19,212.87 L613.49,213.89 L614.80,214.90 L616.11,215.91 L617.41,216.92 L618.72,217.92 L620.03,218.92 L621.33,219.91 L622.64,220.89 L623.95,221.87 L625.25,222.85 L626.56,223.82 L627.87,224.78 L629.17,225.74 L630.48,226.70 L631.79,227.65 L633.09,228.60 L634.40,229.54 L635.71,230.48 L637.01,231.41 L638.32,232.34 L639.63,233.26 L640.93,234.18 L642.24,235.09 L643.55,236.00 L644.85,236.91 L646.16,237.81 L647.47,238.71 L648.77,239.60 L650.08,240.49 L651.39,241.37 L652.69,242.25 L654.00,243.12 L655.31,243.99 L656.61,244.86 L657.92,245.72 L659.23,246.58 L660.53,247.44 L661.84,248.29 L663.15,249.13 L664.45,249.97 L665.76,250.81 L667.07,251.64 L668.37,252.47 L669.68,253.30 L670.99,254.12 L672.29,254.94 L673.60,255.75 L674.91,256.56 L676.21,257.37 L677.52,258.17 L678.83,258.97 L680.13,259.77 L681.44,260.56 L682.75,261.35 L684.05,262.13 L685.36,262.91 L686.67,263.69 L687.97,264.46 L689.28,265.23 L690.59,266.00 L691.89,266.76 L693.20,267.52 L694.51,268.27 L695.81,269.03 L697.12,269.77 L698.43,270.52 L699.73,271.26 L701.04,272.00 L702.35,272.73 L703.65,273.47 L704.96,274.19 L706.27,274.92 L707.57,275.64 L708.88,276.36 L710.19,277.07 L711.49,277.78 L712.80,278.49 L714.11,279.20 L715.41,279.90 L716.72,280.60 L718.03,281.30 L719.33,281.99 L720.64,282.68 L721.95,283.36 L723.25,284.05 L724.56,284.73 L725.87,285.41 L727.17,286.08 L728.48,286.75 L729.79,287.42 L731.09,288.09 L732.40,288.75 L733.71,289.41 L735.01,290.06 L736.32,290.72 L737.63,291.37 L738.93,292.02 L740.24,292.66 L741.55,293.31 L742.85,293.94 L744.16,294.58 L745.47,295.22 L746.77,295.85 L748.08,296.48 L749.39,297.10 L750.69,297.72 L752.00,298.34 L753.31,298.96 L754.61,299.58 L755.92,300.19 L757.23,300.80 L758.53,301.41 L759.84,302.01 L761.15,302.61 L762.45,303.21 L763.76,303.81 L765.07,304.40 L766.37,305.00 L767.68,305.59 L768.99,306.17 L770.29,306.76 L771.60,307.34 L772.91,307.92 L774.21,308.49 L775.52,309.07 L776.83,309.64 L778.13,310.21 L779.44,310.78 L780.75,311.34 L782.05,311.91 L783.36,312.47 L784.67,313.02 L785.97,313.58 L787.28,314.13 L788.59,314.68 L789.89,315.23 L791.20,315.78 L792.51,316.32 L793.81,316.86 L795.12,317.40 L796.43,317.94 L797.73,318.48 L799.04,319.01 L800.35,319.54 L801.65,320.07 L802.96,320.60 L804.27,321.12 L805.57,321.64 L806.88,322.16 L808.19,322.68 L809.49,323.20 L810.80,323.71 L812.11,324.22 L813.41,324.73 L814.72,325.24 L816.03,325.74 L817.33,326.25 L818.64,326.75 L819.95,327.25 L821.25,327.74 L822.56,328.24 L823.87,328.73 L825.17,329.22 L826.48,329.71 L827.79,330.20 L829.09,330.69 L830.40,331.17 L831.71,331.65 L833.01,332.13 L834.32,332.61 L835.63,333.09 L836.93,333.56 L838.24,334.03 L839.55,334.50 L840.85,334.97 L842.16,335.44 L843.47,335.90 L844.77,336.37 L846.08,336.83 L847.39,337.29 L848.69,337.74 L850.00,338.20"/>
<path d="M534.70,42.60 L535.75,44.03 L536.80,45.46 L537.85,46.88 L538.90,48.29 L539.95,49.69 L541.01,51.09 L542.06,52.48 L543.11,53.87 L544.16,55.25 L545.21,56.63 L546.26,57.99 L547.31,59.36 L548.36,60.71 L549.41,62.06 L550.47,63.40 L551.52,64.74 L552.57,66.07 L553.62,67.40 L554.67,68.72 L555.72,70.03 L556.77,71.34 L557.82,72.64 L558.87,73.94 L559.92,75.23 L560.98,76.52 L562.03,77.80 L563.08,79.07 L564.13,80.34 L565.18,81.60 L566.23,82.86 L567.28,84.11 L568.33,85.36 L569.38,86.60 L570.43,87.83 L571.49,89.06 L572.54,90.29 L573.59,91.51 L574.64,92.72 L575.69,93.93 L576.74,95.13 L577.79,96.33 L578.84,97.53 L579.89,98.71 L580.94,99.90 L581.99,101.08 L583.05,102.25 L584.10,103.42 L585.15,104.58 L586.20,105.74 L587.25,106.89 L588.30,108.04 L589.35,109.18 L590.40,110.32 L591.45,111.46 L592.50,112.58 L593.56,113.71 L594.61,114.83 L595.66,115.94 L596.71,117.05 L597.76,118.16 L598.81,119.26 L599.86,120.36 L600.91,121.45 L601.96,122.53 L603.02,123.62 L604.07,124.70 L605.12,125.77 L606.17,126.84 L607.22,127.90 L608.27,128.96 L609.32,130.02 L610.37,131.07 L611.42,132.12 L612.47,133.16 L613.52,134.20 L614.58,135.23 L615.63,136.26 L616.68,137.29 L617.73,138.31 L618.78,139.33 L619.83,140.34 L620.88,141.35 L621.93,142.36 L622.98,143.36 L624.03,144.36 L625.09,145.35 L626.14,146.34 L627.19,147.32 L628.24,148.31 L629.29,149.28 L630.34,150.26 L631.39,151.23 L632.44,152.19 L633.49,153.15 L634.55,154.11 L635.60,155.06 L636.65,156.01 L637.70,156.96 L638.75,157.90 L639.80,158.84 L640.85,159.78 L641.90,160.71 L642.95,161.64 L644.00,162.56 L645.06,163.48 L646.11,164.40 L647.16,165.31 L648.21,166.22 L649.26,167.13 L650.31,168.03 L651.36,168.93 L652.41,169.82 L653.46,170.72 L654.51,171.60 L655.56,172.49 L656.62,173.37 L657.67,174.25 L658.72,175.12 L659.77,176.00 L660.82,176.86 L661.87,177.73 L662.92,178.59 L663.97,179.45 L665.02,180.30 L666.08,181.15 L667.13,182.00 L668.18,182.85 L669.23,183.69 L670.28,184.53 L671.33,185.36 L672.38,186.19 L673.43,187.02 L674.48,187.85 L675.53,188.67 L676.59,189.49 L677.64,190.31 L678.69,191.12 L679.74,191.93 L680.79,192.74 L681.84,193.54 L682.89,194.34 L683.94,195.14 L684.99,195.94 L686.04,196.73 L687.10,197.52 L688.15,198.30 L689.20,199.09 L690.25,199.87 L691.30,200.65 L692.35,201.42 L693.40,202.19 L694.45,202.96 L695.50,203.73 L696.55,204.49 L697.61,205.25 L698.66,206.01 L699.71,206.76 L700.76,207.51 L701.81,208.26 L702.86,209.01 L703.91,209.75 L704.96,210.49 L706.01,211.23 L707.06,211.97 L708.12,212.70 L709.17,213.43 L710.22,214.16 L711.27,214.88 L712.32,215.60 L713.37,216.32 L714.42,217.04 L715.47,217.76 L716.52,218.47 L717.57,219.18 L718.62,219.88 L719.68,220.59 L720.73,221.29 L721.78,221.99 L722.83,222.68 L723.88,223.38 L724.93,224.07 L725.98,224.76 L727.03,225.45 L728.08,226.13 L729.13,226.81 L730.19,227.49 L731.24,228.17 L732.29,228.84 L733.34,229.51 L734.39,230.18 L735.44,230.85 L736.49,231.52 L737.54,232.18 L738.59,232.84 L739.64,233.50 L740.70,234.15 L741.75,234.80 L742.80,235.46 L743.85,236.10 L744.90,236.75 L745.95,237.40 L747.00,238.04 L748.05,238.68 L749.10,239.31 L750.15,239.95 L751.21,240.58 L752.26,241.21 L753.31,241.84 L754.36,242.47 L755.41,243.09 L756.46,243.71 L757.51,244.33 L758.56,244.95 L759.61,245.57 L760.67,246.18 L761.72,246.79 L762.77,247.40 L763.82,248.01 L764.87,248.61 L765.92,249.22 L766.97,249.82 L768.02,250.42 L769.07,251.01 L770.12,251.61 L771.18,252.20 L772.23,252.79 L773.28,253.38 L774.33,253.97 L775.38,254.55 L776.43,255.14 L777.48,255.72 L778.53,256.30 L779.58,256.87 L780.63,257.45 L781.68,258.02 L782.74,258.59 L783.79,259.16 L784.84,259.73 L785.89,260.29 L786.94,260.86 L787.99,261.42 L789.04,261.98 L790.09,262.54 L791.14,263.09 L792.19,263.65 L793.25,264.20 L794.30,264.75 L795.35,265.30 L796.40,265.85 L797.45,266.39 L798.50,266.93 L799.55,267.48 L800.60,268.02 L801.65,268.55 L802.71,269.09 L803.76,269.62 L804.81,270.16 L805.86,270.69 L806.91,271.22 L807.96,271.74 L809.01,272.27 L810.06,272.79 L811.11,273.32 L812.16,273.84 L813.22,274.35 L814.27,274.87 L815.32,275.39 L816.37,275.90 L817.42,276.41 L818.47,276.92 L819.52,277.43 L820.57,277.94 L821.62,278.45 L822.67,278.95 L823.73,279.45 L824.78,279.95 L825.83,280.45 L826.88,280.95 L827.93,281.44 L828.98,281.94 L830.03,282.43 L831.08,282.92 L832.13,283.41 L833.18,283.90 L834.24,284.39 L835.29,284.87 L836.34,285.35 L837.39,285.84 L838.44,286.32 L839.49,286.80 L840.54,287.27 L841.59,287.75 L842.64,288.22 L843.69,288.69 L844.75,289.17 L845.80,289.64 L846.85,290.10 L847.90,290.57 L848.95,291.04 L850.00,291.50"/>
<path d="M659.10,42.60 L659.74,43.33 L660.37,44.07 L661.01,44.80 L661.65,45.53 L662.28,46.26 L662.92,46.98 L663.55,47.71 L664.19,48.43 L664.83,49.15 L665.46,49.87 L666.10,50.59 L666.74,51.30 L667.37,52.02 L668.01,52.73 L668.64,53.44 L669.28,54.15 L669.92,54.86 L670.55,55.56 L671.19,56.27 L671.83,56.97 L672.46,57.67 L673.10,58.37 L673.74,59.07 L674.37,59.77 L675.01,60.46 L675.64,61.15 L676.28,61.85 L676.92,62.54 L677.55,63.22 L678.19,63.91 L678.83,64.60 L679.46,65.28 L680.10,65.96 L680.74,66.64 L681.37,67.32 L682.01,68.00 L682.64,68.67 L683.28,69.35 L683.92,70.02 L684.55,70.69 L685.19,71.36 L685.83,72.03 L686.46,72.70 L687.10,73.36 L687.74,74.03 L688.37,74.69 L689.01,75.35 L689.64,76.01 L690.28,76.67 L690.92,77.32 L691.55,77.98 L692.19,78.63 L692.83,79.28 L693.46,79.93 L694.10,80.58 L694.73,81.23 L695.37,81.87 L696.01,82.52 L696.64,83.16 L697.28,83.80 L697.92,84.44 L698.55,85.08 L699.19,85.72 L699.83,86.36 L700.46,86.99 L701.10,87.62 L701.73,88.25 L702.37,88.89 L703.01,89.51 L703.64,90.14 L704.28,90.77 L704.92,91.39 L705.55,92.02 L706.19,92.64 L706.83,93.26 L707.46,93.88 L708.10,94.49 L708.73,95.11 L709.37,95.73 L710.01,96.34 L710.64,96.95 L711.28,97.56 L711.92,98.17 L712.55,98.78 L713.19,99.39 L713.82,99.99 L714.46,100.60 L715.10,101.20 L715.73,101.80 L716.37,102.40 L717.01,103.00 L717.64,103.60 L718.28,104.20 L718.92,104.79 L719.55,105.38 L720.19,105.98 L720.82,106.57 L721.46,107.16 L722.10,107.75 L722.73,108.33 L723.37,108.92 L724.01,109.50 L724.64,110.09 L725.28,110.67 L725.91,111.25 L726.55,111.83 L727.19,112.41 L727.82,112.99 L728.46,113.56 L729.10,114.14 L729.73,114.71 L730.37,115.28 L731.01,115.85 L731.64,116.42 L732.28,116.99 L732.91,117.56 L733.55,118.13 L734.19,118.69 L734.82,119.25 L735.46,119.82 L736.10,120.38 L736.73,120.94 L737.37,121.50 L738.01,122.05 L738.64,122.61 L739.28,123.17 L739.91,123.72 L740.55,124.27 L741.19,124.82 L741.82,125.37 L742.46,125.92 L743.10,126.47 L743.73,127.02 L744.37,127.57 L745.00,128.11 L745.64,128.65 L746.28,129.20 L746.91,129.74 L747.55,130.28 L748.19,130.82 L748.82,131.35 L749.46,131.89 L750.10,132.43 L750.73,132.96 L751.37,133.49 L752.00,134.03 L752.64,134.56 L753.28,135.09 L753.91,135.62 L754.55,136.14 L755.19,136.67 L755.82,137.20 L756.46,137.72 L757.10,138.24 L757.73,138.77 L758.37,139.29 L759.00,139.81 L759.64,140.33 L760.28,140.84 L760.91,141.36 L761.55,141.88 L762.19,142.39 L762.82,142.90 L763.46,143.42 L764.10,143.93 L764.73,144.44 L765.37,144.95 L766.00,145.46 L766.64,145.96 L767.28,146.47 L767.91,146.97 L768.55,147.48 L769.19,147.98 L769.82,148.48 L770.46,148.98 L771.09,149.48 L771.73,149.98 L772.37,150.48 L773.00,150.98 L773.64,151.47 L774.28,151.97 L774.91,152.46 L775.55,152.96 L776.19,153.45 L776.82,153.94 L777.46,154.43 L778.09,154.92 L778.73,155.40 L779.37,155.89 L780.00,156.38 L780.64,156.86 L781.28,157.35 L781.91,157.83 L782.55,158.31 L783.19,158.79 L783.82,159.27 L784.46,159.75 L785.09,160.23 L785.73,160.70 L786.37,161.18 L787.00,161.65 L787.64,162.13 L788.28,162.60 L788.91,163.07 L789.55,163.54 L790.18,164.02 L790.82,164.48 L791.46,164.95 L792.09,165.42 L792.73,165.89 L793.37,166.35 L794.00,166.82 L794.64,167.28 L795.28,167.74 L795.91,168.20 L796.55,168.67 L797.18,169.12 L797.82,169.58 L798.46,170.04 L799.09,170.50 L799.73,170.96 L800.37,171.41 L801.00,171.86 L801.64,172.32 L802.27,172.77 L802.91,173.22 L803.55,173.67 L804.18,174.12 L804.82,174.57 L805.46,175.02 L806.09,175.47 L806.73,175.91 L807.37,176.36 L808.00,176.80 L808.64,177.25 L809.27,177.69 L809.91,178.13 L810.55,178.57 L811.18,179.01 L811.82,179.45 L812.46,179.89 L813.09,180.33 L813.73,180.77 L814.37,181.20 L815.00,181.64 L815.64,182.07 L816.27,182.50 L816.91,182.94 L817.55,183.37 L818.18,183.80 L818.82,184.23 L819.46,184.66 L820.09,185.08 L820.73,185.51 L821.37,185.94 L822.00,186.36 L822.64,186.79 L823.27,187.21 L823.91,187.64 L824.55,188.06 L825.18,188.48 L825.82,188.90 L826.46,189.32 L827.09,189.74 L827.73,190.16 L828.36,190.58 L829.00,190.99 L829.64,191.41 L830.27,191.82 L830.91,192.24 L831.55,192.65 L832.18,193.06 L832.82,193.48 L833.46,193.89 L834.09,194.30 L834.73,194.71 L835.36,195.11 L836.00,195.52 L836.64,195.93 L837.27,196.34 L837.91,196.74 L838.55,197.15 L839.18,197.55 L839.82,197.95 L840.46,198.36 L841.09,198.76 L841.73,199.16 L842.36,199.56 L843.00,199.96 L843.64,200.36 L844.27,200.75 L844.91,201.15 L845.55,201.55 L846.18,201.94 L846.82,202.34 L847.45,202.73 L848.09,203.12 L848.73,203.52 L849.36,203.91 L850.00,204.30"/>
<path d="M769.90,42.60 L770.17,42.87 L770.43,43.14 L770.70,43.41 L770.97,43.67 L771.23,43.94 L771.50,44.21 L771.77,44.48 L772.04,44.74 L772.30,45.01 L772.57,45.28 L772.84,45.54 L773.10,45.81 L773.37,46.08 L773.64,46.34 L773.90,46.61 L774.17,46.87 L774.44,47.14 L774.71,47.40 L774.97,47.67 L775.24,47.93 L775.51,48.20 L775.77,48.46 L776.04,48.73 L776.31,48.99 L776.57,49.25 L776.84,49.52 L777.11,49.78 L777.38,50.04 L777.64,50.30 L777.91,50.57 L778.18,50.83 L778.44,51.09 L778.71,51.35 L778.98,51.61 L779.25,51.87 L779.51,52.14 L779.78,52.40 L780.05,52.66 L780.31,52.92 L780.58,53.18 L780.85,53.44 L781.11,53.70 L781.38,53.96 L781.65,54.21 L781.91,54.47 L782.18,54.73 L782.45,54.99 L782.72,55.25 L782.98,55.51 L783.25,55.76 L783.52,56.02 L783.78,56.28 L784.05,56.54 L784.32,56.79 L784.58,57.05 L784.85,57.31 L785.12,57.56 L785.39,57.82 L785.65,58.07 L785.92,58.33 L786.19,58.59 L786.45,58.84 L786.72,59.10 L786.99,59.35 L787.25,59.60 L787.52,59.86 L787.79,60.11 L788.06,60.37 L788.32,60.62 L788.59,60.87 L788.86,61.13 L789.12,61.38 L789.39,61.63 L789.66,61.89 L789.92,62.14 L790.19,62.39 L790.46,62.64 L790.73,62.89 L790.99,63.14 L791.26,63.40 L791.53,63.65 L791.79,63.90 L792.06,64.15 L792.33,64.40 L792.59,64.65 L792.86,64.90 L793.13,65.15 L793.40,65.40 L793.66,65.65 L793.93,65.90 L794.20,66.15 L794.46,66.40 L794.73,66.64 L795.00,66.89 L795.26,67.14 L795.53,67.39 L795.80,67.64 L796.07,67.88 L796.33,68.13 L796.60,68.38 L796.87,68.62 L797.13,68.87 L797.40,69.12 L797.67,69.36 L797.93,69.61 L798.20,69.86 L798.47,70.10 L798.74,70.35 L799.00,70.59 L799.27,70.84 L799.54,71.08 L799.80,71.33 L800.07,71.57 L800.34,71.81 L800.60,72.06 L800.87,72.30 L801.14,72.55 L801.41,72.79 L801.67,73.03 L801.94,73.28 L802.21,73.52 L802.47,73.76 L802.74,74.00 L803.01,74.25 L803.27,74.49 L803.54,74.73 L803.81,74.97 L804.08,75.21 L804.34,75.45 L804.61,75.69 L804.88,75.93 L805.14,76.18 L805.41,76.42 L805.68,76.66 L805.94,76.90 L806.21,77.14 L806.48,77.37 L806.75,77.61 L807.01,77.85 L807.28,78.09 L807.55,78.33 L807.81,78.57 L808.08,78.81 L808.35,79.05 L808.62,79.28 L808.88,79.52 L809.15,79.76 L809.42,80.00 L809.68,80.23 L809.95,80.47 L810.22,80.71 L810.48,80.94 L810.75,81.18 L811.02,81.42 L811.28,81.65 L811.55,81.89 L811.82,82.12 L812.09,82.36 L812.35,82.59 L812.62,82.83 L812.89,83.06 L813.15,83.30 L813.42,83.53 L813.69,83.77 L813.96,84.00 L814.22,84.23 L814.49,84.47 L814.76,84.70 L815.02,84.94 L815.29,85.17 L815.56,85.40 L815.82,85.63 L816.09,85.87 L816.36,86.10 L816.62,86.33 L816.89,86.56 L817.16,86.79 L817.43,87.03 L817.69,87.26 L817.96,87.49 L818.23,87.72 L818.49,87.95 L818.76,88.18 L819.03,88.41 L819.30,88.64 L819.56,88.87 L819.83,89.10 L820.10,89.33 L820.36,89.56 L820.63,89.79 L820.90,90.02 L821.16,90.25 L821.43,90.48 L821.70,90.70 L821.96,90.93 L822.23,91.16 L822.50,91.39 L822.77,91.62 L823.03,91.84 L823.30,92.07 L823.57,92.30 L823.83,92.53 L824.10,92.75 L824.37,92.98 L824.63,93.21 L824.90,93.43 L825.17,93.66 L825.44,93.88 L825.70,94.11 L825.97,94.33 L826.24,94.56 L826.50,94.79 L826.77,95.01 L827.04,95.23 L827.30,95.46 L827.57,95.68 L827.84,95.91 L828.11,96.13 L828.37,96.36 L828.64,96.58 L828.91,96.80 L829.17,97.03 L829.44,97.25 L829.71,97.47 L829.97,97.70 L830.24,97.92 L830.51,98.14 L830.78,98.36 L831.04,98.58 L831.31,98.81 L831.58,99.03 L831.84,99.25 L832.11,99.47 L832.38,99.69 L832.64,99.91 L832.91,100.13 L833.18,100.35 L833.45,100.57 L833.71,100.80 L833.98,101.02 L834.25,101.24 L834.51,101.45 L834.78,101.67 L835.05,101.89 L835.31,102.11 L835.58,102.33 L835.85,102.55 L836.12,102.77 L836.38,102.99 L836.65,103.21 L836.92,103.42 L837.18,103.64 L837.45,103.86 L837.72,104.08 L837.99,104.30 L838.25,104.51 L838.52,104.73 L838.79,104.95 L839.05,105.16 L839.32,105.38 L839.59,105.60 L839.85,105.81 L840.12,106.03 L840.39,106.24 L840.65,106.46 L840.92,106.68 L841.19,106.89 L841.46,107.11 L841.72,107.32 L841.99,107.54 L842.26,107.75 L842.52,107.96 L842.79,108.18 L843.06,108.39 L843.32,108.61 L843.59,108.82 L843.86,109.03 L844.13,109.25 L844.39,109.46 L844.66,109.67 L844.93,109.89 L845.19,110.10 L845.46,110.31 L845.73,110.52 L846.00,110.74 L846.26,110.95 L846.53,111.16 L846.80,111.37 L847.06,111.58 L847.33,111.80 L847.60,112.01 L847.86,112.22 L848.13,112.43 L848.40,112.64 L848.66,112.85 L848.93,113.06 L849.20,113.27 L849.47,113.48 L849.73,113.69 L850.00,113.90"/>
<path d="M190.90,456.30 L97.00,626.80"/>
<path d="M276.80,456.30 L97.00,718.50"/>
<path d="M419.90,456.30 L97.00,808.30"/>
<path d="M707.60,456.30 L193.00,832.80"/>
<path d="M850.00,543.00 L313.80,832.80"/>
<path d="M850.00,720.20 L541.10,832.80"/>
</g>
<g font-family='"Liberation Sans", Arial, sans-serif' font-size="25.0" fill="#000" letter-spacing="0.00">
<text x="205.73" y="369.00">0.5</text>
<text x="309.65" y="319.35">1</text>
<text x="425.80" y="262.55">2</text>
<text x="506.75" y="222.20">3</text>
<text x="570.65" y="188.95">4</text>
<text x="630.40" y="163.90">5</text>
<text x="717.90" y="121.10">7</text>
<text x="791.10" y="76.75">9</text>
<text x="164.70" y="502.95">5</text>
<text x="225.10" y="534.05">4</text>
<text x="314.55" y="578.00">3</text>
<text x="453.50" y="647.80">2</text>
<text x="556.33" y="704.35">1.5</text>
<text x="712.65" y="779.40">1</text>
</g>
<g fill="none" stroke="#000" stroke-width="1.60"><rect x="97.00" y="42.60" width="753.00" height="376.20"/><rect x="97.00" y="456.30" width="753.00" height="376.50"/></g>
<path d="M97.00,42.60 V34.80 M97.00,418.80 V425.60 M97.00,456.30 V448.50 M97.00,832.80 V839.60 M222.50,42.60 V34.80 M222.50,418.80 V425.60 M222.50,456.30 V448.50 M222.50,832.80 V839.60 M348.00,42.60 V34.80 M348.00,418.80 V425.60 M348.00,456.30 V448.50 M348.00,832.80 V839.60 M473.50,42.60 V34.80 M473.50,418.80 V425.60 M473.50,456.30 V448.50 M473.50,832.80 V839.60 M599.00,42.60 V34.80 M599.00,418.80 V425.60 M599.00,456.30 V448.50 M599.00,832.80 V839.60 M724.50,42.60 V34.80 M724.50,418.80 V425.60 M724.50,456.30 V448.50 M724.50,832.80 V839.60 M850.00,42.60 V34.80 M850.00,418.80 V425.60 M850.00,456.30 V448.50 M850.00,832.80 V839.60 M97.00,418.80 H89.20 M850.00,418.80 H856.80 M97.00,371.78 H93.00 M850.00,371.78 H853.50 M97.00,324.75 H89.20 M850.00,324.75 H856.80 M97.00,277.73 H93.00 M850.00,277.73 H853.50 M97.00,230.70 H89.20 M850.00,230.70 H856.80 M97.00,183.67 H93.00 M850.00,183.67 H853.50 M97.00,136.65 H89.20 M850.00,136.65 H856.80 M97.00,89.62 H93.00 M850.00,89.62 H853.50 M97.00,42.60 H89.20 M850.00,42.60 H856.80 M97.00,832.80 H89.20 M850.00,832.80 H856.80 M97.00,801.42 H93.00 M850.00,801.42 H853.50 M97.00,770.05 H89.20 M850.00,770.05 H856.80 M97.00,738.67 H93.00 M850.00,738.67 H853.50 M97.00,707.30 H89.20 M850.00,707.30 H856.80 M97.00,675.92 H93.00 M850.00,675.92 H853.50 M97.00,644.55 H89.20 M850.00,644.55 H856.80 M97.00,613.17 H93.00 M850.00,613.17 H853.50 M97.00,581.80 H89.20 M850.00,581.80 H856.80 M97.00,550.42 H93.00 M850.00,550.42 H853.50 M97.00,519.05 H89.20 M850.00,519.05 H856.80 M97.00,487.68 H93.00 M850.00,487.68 H853.50 M97.00,456.30 H89.20 M850.00,456.30 H856.80 M914.90,50.60 H921.40 M914.90,84.90 H921.40 M914.90,118.70 H921.40 M914.90,152.80 H921.40 M914.90,186.30 H921.40 M914.90,220.60 H921.40 M914.90,254.60 H921.40 M914.90,291.50 H921.40 M914.90,329.60 H921.40 M914.90,367.20 H921.40 M914.90,404.80 H921.40 M914.90,482.10 H921.40 M914.90,542.00 H921.40 M914.90,601.20 H921.40 M914.90,661.00 H921.40 M914.90,720.70 H921.40 M914.90,781.00 H921.40" fill="none" stroke="#000" stroke-width="1.60"/>
<rect x="864.90" y="42.60" width="50.00" height="378.40" fill="url(#cbt)" stroke="#000" stroke-width="1.60"/>
<rect x="864.90" y="456.50" width="50.00" height="375.10" fill="url(#cbb)" stroke="#000" stroke-width="1.60"/>
<g font-family='"Liberation Sans", Arial, sans-serif' font-size="26.5" fill="#000"><text transform="translate(97.00,22.20) scale(1,1.06)" text-anchor="middle">0.50</text><text transform="translate(97.00,866.30) scale(1,1.06)" text-anchor="middle">0.50</text><text transform="translate(222.50,22.20) scale(1,1.06)" text-anchor="middle">0.75</text><text transform="translate(222.50,866.30) scale(1,1.06)" text-anchor="middle">0.75</text><text transform="translate(348.00,22.20) scale(1,1.06)" text-anchor="middle">1.00</text><text transform="translate(348.00,866.30) scale(1,1.06)" text-anchor="middle">1.00</text><text transform="translate(473.50,22.20) scale(1,1.06)" text-anchor="middle">1.25</text><text transform="translate(473.50,866.30) scale(1,1.06)" text-anchor="middle">1.25</text><text transform="translate(599.00,22.20) scale(1,1.06)" text-anchor="middle">1.50</text><text transform="translate(599.00,866.30) scale(1,1.06)" text-anchor="middle">1.50</text><text transform="translate(724.50,22.20) scale(1,1.06)" text-anchor="middle">1.75</text><text transform="translate(724.50,866.30) scale(1,1.06)" text-anchor="middle">1.75</text><text transform="translate(850.00,22.20) scale(1,1.06)" text-anchor="middle">2.00</text><text transform="translate(850.00,866.30) scale(1,1.06)" text-anchor="middle">2.00</text><text transform="translate(84.50,427.16) scale(1,1.06)" text-anchor="end">100</text><text transform="translate(84.50,333.11) scale(1,1.06)" text-anchor="end">200</text><text transform="translate(84.50,239.06) scale(1,1.06)" text-anchor="end">300</text><text transform="translate(84.50,145.01) scale(1,1.06)" text-anchor="end">400</text><text transform="translate(84.50,50.96) scale(1,1.06)" text-anchor="end">500</text><text transform="translate(84.50,841.16) scale(1,1.06)" text-anchor="end">20</text><text transform="translate(84.50,778.41) scale(1,1.06)" text-anchor="end">25</text><text transform="translate(84.50,715.66) scale(1,1.06)" text-anchor="end">30</text><text transform="translate(84.50,652.91) scale(1,1.06)" text-anchor="end">35</text><text transform="translate(84.50,590.16) scale(1,1.06)" text-anchor="end">40</text><text transform="translate(84.50,527.41) scale(1,1.06)" text-anchor="end">45</text><text transform="translate(84.50,464.66) scale(1,1.06)" text-anchor="end">50</text><text transform="translate(932.30,60.54) scale(1,1.06)">10.5</text><text transform="translate(932.30,94.84) scale(1,1.06)">9.5</text><text transform="translate(932.30,128.64) scale(1,1.06)">8.5</text><text transform="translate(932.30,162.74) scale(1,1.06)">7.5</text><text transform="translate(932.30,196.24) scale(1,1.06)">6.5</text><text transform="translate(932.30,230.54) scale(1,1.06)">5.5</text><text transform="translate(932.30,264.54) scale(1,1.06)">4.5</text><text transform="translate(932.30,301.44) scale(1,1.06)">3.5</text><text transform="translate(932.30,339.54) scale(1,1.06)">2.5</text><text transform="translate(932.30,377.14) scale(1,1.06)">1.5</text><text transform="translate(932.30,414.74) scale(1,1.06)">0.5</text><text transform="translate(932.30,492.04) scale(1,1.06)">6.5</text><text transform="translate(932.30,551.94) scale(1,1.06)">5.5</text><text transform="translate(932.30,611.14) scale(1,1.06)">4.5</text><text transform="translate(932.30,670.94) scale(1,1.06)">3.5</text><text transform="translate(932.30,730.64) scale(1,1.06)">2.5</text><text transform="translate(932.30,790.94) scale(1,1.06)">1.5</text></g>
<g font-family='"Liberation Sans", Arial, sans-serif' font-size="31.5" fill="#000" letter-spacing="0.00"><text x="326.84" y="912.60">Finger Spacing (mm)</text><text transform="translate(26.1,447.36) rotate(-90)">Emitter Sheet Resistance (&#937;/</text><text transform="translate(26.0,40.4) rotate(-90) scale(0.80,1.08)" fill="#333">&#9633;</text><text transform="translate(26.1,23.16) rotate(-90)">)</text><text transform="translate(30.6,769.86) rotate(-90)">Finger Width (&#956;m)</text><text transform="translate(1010.5,397.26) rotate(-90)">P<tspan font-size="21.4" dy="8.5">Loss;Emitter Resistance</tspan><tspan dy="-8.5"> (%</tspan><tspan font-size="21.4" dy="8.5">rel</tspan><tspan dy="-8.5">)</tspan></text><text transform="translate(1008.4,792.46) rotate(-90)">P<tspan font-size="21.4" dy="8.5">Loss;Finger Shading</tspan><tspan dy="-8.5"> (%</tspan><tspan font-size="21.4" dy="8.5">rel</tspan><tspan dy="-8.5">)</tspan></text></g>
</svg>
</body></html>
